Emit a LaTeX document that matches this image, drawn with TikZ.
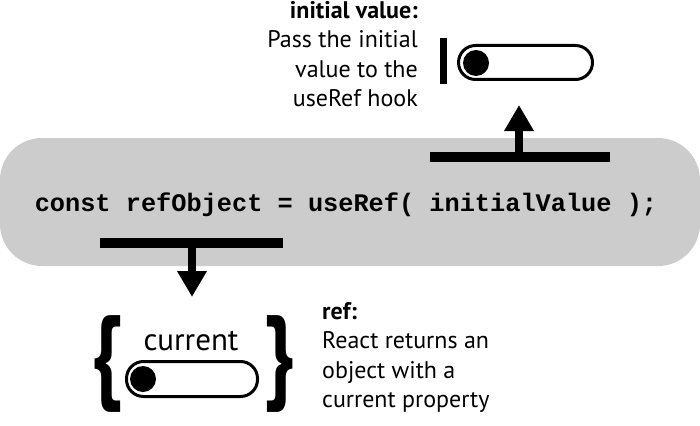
\documentclass[tikz,border=0pt]{standalone}
\usepackage{fontspec}
\setmainfont{PT Sans}
\setmonofont{Liberation Mono}
\usetikzlibrary{arrows.meta}
\tikzset{
  bar/.style={fill=black, inner sep=0pt, minimum height=10pt},
  stem/.style={line width=8pt, -{Triangle[width=28pt,length=26pt]}},
  pill/.style={draw=black, line width=3pt, rounded corners=17pt, inner sep=0pt},
  dot/.style={circle, fill=black, inner sep=0pt, minimum size=26pt},
  lbl/.style={font=\fontsize{24}{29.5}\selectfont, inner sep=0pt},
  brace/.style={font=\bfseries\fontsize{104}{104}\selectfont, inner sep=0pt, xscale=0.8}
}
\begin{document}
\begin{tikzpicture}[x=1pt,y=-1pt]
\useasboundingbox (0,0) rectangle (700,425);
% grey code band
\node[fill=black!20, rounded corners=42pt, minimum width=700pt, minimum height=128pt, inner sep=0pt] (band) at (350,202) {};
\node[font=\ttfamily\bfseries\fontsize{25.3}{25.3}\selectfont, inner sep=0pt] (code) at (346,205) {const refObject = useRef( initialValue );};
% top T
\node[bar, minimum width=180pt] (topbar) at (520,157) {};
\coordinate (toptip) at (519,105);
\draw[stem] (topbar.north -| toptip) -- (toptip);
% bottom T
\node[bar, minimum width=183pt] (botbar) at (191.5,243) {};
\coordinate (bottip) at (192,297);
\draw[stem] (botbar.south -| bottip) -- (bottip);
% initial value text
\node[lbl, anchor=north east, align=right] (ivtext) at (418,1) {\textbf{initial value:}\\Pass the initial\\value to the\\useRef hook};
% top toggle
\node[fill=black, inner sep=0pt, minimum width=7pt, minimum height=46pt] (vbar) at (443.5,61) {};
\node[pill, minimum width=134pt, minimum height=34pt] (toppill) at (525.5,62.5) {};
\node[dot] (topdot) at (476,63) {};
% bottom object
\node[brace] (lbrace) at (107,364) {\{};
\node[brace] (rbrace) at (280,364) {\}};
\node[font=\fontsize{31}{31}\selectfont, inner sep=0pt] (cur) at (191,341) {current};
\node[pill, minimum width=131pt, minimum height=35pt] (botpill) at (192,379) {};
\node[dot] (botdot) at (143,379) {};
% ref text
\node[lbl, anchor=north west, align=left] (reftext) at (322,302) {\textbf{ref:}\\React returns an\\object with a\\current property};
\end{tikzpicture}
\end{document}
